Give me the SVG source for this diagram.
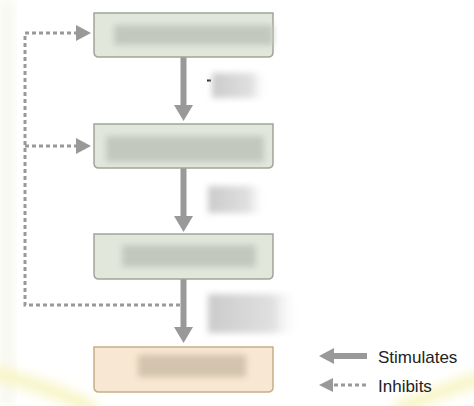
<svg xmlns="http://www.w3.org/2000/svg" width="474" height="406" viewBox="0 0 474 406">
<defs>
<style>
.g{fill:#e2e7dc;stroke:#9ea797;stroke-width:1.5}
.o{fill:#f8e7d2;stroke:#c8ae86;stroke-width:1.5}
.sh{stroke:#999;stroke-width:6;fill:none}
.dt{stroke:#999;stroke-width:3;fill:none;stroke-dasharray:4 3}
.hd{fill:#999}
.lbl{font-family:"Liberation Sans",Arial,sans-serif;font-size:17px;fill:#222}
.bl{fill:#c3c8be;filter:url(#b)}
.bo{fill:#d3c4ae;filter:url(#b)}
</style>
<filter id="b" x="-20%" y="-40%" width="140%" height="180%"><feGaussianBlur stdDeviation="3"/></filter>
<filter id="bb" x="-20%" y="-50%" width="140%" height="200%"><feGaussianBlur stdDeviation="6"/></filter>
<linearGradient id="fade" x1="0" x2="1" y1="0" y2="0"><stop offset="0" stop-color="#cbcbcb"/><stop offset="0.7" stop-color="#e0e0e0"/><stop offset="1" stop-color="#fff" stop-opacity="0"/></linearGradient>
</defs>
<rect width="474" height="406" fill="#fff"/>
<g id="background">
<rect x="0" y="0" width="14" height="406" fill="#f7f7ef" filter="url(#bb)"/>
<path d="M-10,372 Q60,390 95,410" stroke="#f7f5c4" stroke-width="14" fill="none" filter="url(#bb)"/>
<path d="M395,410 Q440,392 480,378" stroke="#f7f5c4" stroke-width="14" fill="none" filter="url(#bb)"/>
</g>
<g id="connectors">
<line class="sh" x1="183.5" y1="57" x2="183.5" y2="107"/>
<polygon class="hd" points="174,105 193,105 183.5,121"/>
<line class="sh" x1="183.5" y1="168" x2="183.5" y2="218"/>
<polygon class="hd" points="174,216 193,216 183.5,232"/>
<line class="sh" x1="183.5" y1="279" x2="183.5" y2="329"/>
<polygon class="hd" points="174,327 193,327 183.5,343"/>
<path class="dt" d="M180,305 H25 V33 H77"/>
<line class="dt" x1="25" y1="146" x2="77" y2="146"/>
<polygon class="hd" points="76,25 76,41 91,33"/>
<polygon class="hd" points="76,138 76,154 91,146"/>
</g>
<g id="node1">
<path class="g" d="M94,13 H273 V52 Q273,57 268,57 H99 Q94,57 94,52 Z"/>
<rect class="bl" x="114" y="25" width="159" height="20"/>
</g>
<g id="node2">
<path class="g" d="M94,124 H273 V163 Q273,168 268,168 H99 Q94,168 94,163 Z"/>
<rect class="bl" x="106" y="136" width="158" height="26"/>
</g>
<g id="node3">
<path class="g" d="M94,234 H273 V274 Q273,279 268,279 H99 Q94,279 94,274 Z"/>
<rect class="bl" x="122" y="245" width="134" height="22"/>
</g>
<g id="node4">
<path class="o" d="M94,347 H273 V387 Q273,392 268,392 H99 Q94,392 94,387 Z"/>
<rect class="bo" x="138" y="355" width="108" height="22"/>
</g>
<g id="labels">
<rect x="207" y="79.5" width="4" height="2" fill="#222"/>
<rect x="212" y="73" width="56" height="25" fill="url(#fade)" filter="url(#b)"/>
<rect x="208" y="186" width="58" height="27" fill="url(#fade)" filter="url(#b)"/>
<rect x="208" y="294" width="92" height="39" fill="url(#fade)" filter="url(#b)"/>
</g>
<g id="legend">
<line class="sh" x1="330" y1="356" x2="367" y2="356"/>
<polygon class="hd" points="319,356 334,348 334,364"/>
<line class="dt" x1="334" y1="385" x2="367" y2="385" stroke-width="2.5"/>
<polygon class="hd" points="319,385 333,378 333,392"/>
<text class="lbl" x="378" y="363">Stimulates</text>
<text class="lbl" x="378" y="392">Inhibits</text>
</g>
</svg>
